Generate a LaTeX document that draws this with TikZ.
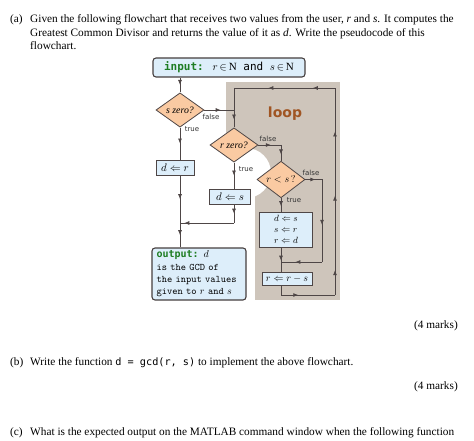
\documentclass[tikz,border=0pt]{standalone}
\usepackage{fontspec}
\setmainfont{Liberation Serif}
\newfontfamily\sansf{DejaVu Sans}
\newfontfamily\monof{DejaVu Sans Mono}
\newfontfamily\lmmono{Latin Modern Mono}
\usetikzlibrary{shapes.geometric,decorations.markings,arrows.meta}
\definecolor{loopgray}{RGB}{206,197,187}
\definecolor{diafill}{RGB}{250,202,162}
\definecolor{boxfill}{RGB}{221,238,250}
\definecolor{lncol}{RGB}{78,70,70}
\definecolor{kwgreen}{RGB}{30,125,35}
\definecolor{looptxt}{RGB}{160,85,35}
\tikzset{
  x=1pt, y=-1pt,
  >={Latex[length=5pt,width=4pt]},
  ln/.style={draw=lncol, line width=0.8pt},
  mk/.style={postaction={decorate},decoration={markings,mark=at position #1 with {\arrow{>}}}},
  mk/.default=0.5,
  mktwo/.style 2 args={postaction={decorate},decoration={markings,mark=at position #1 with {\arrow{>}},mark=at position #2 with {\arrow{>}}}},
  mkthree/.style n args={3}{postaction={decorate},decoration={markings,mark=at position #1 with {\arrow{>}},mark=at position #2 with {\arrow{>}},mark=at position #3 with {\arrow{>}}}},
  dia/.style={diamond, draw=lncol, line width=0.8pt, fill=diafill, inner sep=0pt, font=\fontsize{9.8}{11}\selectfont\itshape},
  bx/.style={rectangle, draw=lncol, line width=0.8pt, fill=boxfill, inner sep=0pt, font=\fontsize{10.5}{12}\selectfont},
  io/.style={rectangle, rounded corners=3pt, draw=lncol!90!black, line width=1.1pt, fill=boxfill, inner sep=0pt},
  lab/.style={font=\sansf\fontsize{7}{8}\selectfont, inner sep=0pt, text=black!80},
  txt/.style={font=\fontsize{11.3}{13}\selectfont, inner sep=0pt, anchor=base west},
}
\begin{document}
\begin{tikzpicture}
\useasboundingbox (0,0) rectangle (474,441);
% question text
\node[txt] (qa) at (10,22.5) {(a)};
\node[txt] (qa1) at (30,22.5) {Given the following flowchart that receives two values from the user, \textit{r} and \textit{s}. It computes the};
\node[txt] (qa2) at (30,36.5) {Greatest Common Divisor and returns the value of it as \textit{d}. Write the pseudocode of this};
\node[txt] (qa3) at (30,50) {flowchart.};
\node[txt, anchor=base east] (m1) at (458,328.5) {(4 marks)};
\node[txt] (qb) at (10,365.5) {(b)};
\node[txt] (qb1) at (30,365.5) {Write the function {\monof\fontsize{10.2}{12}\selectfont d = gcd(r, s)} to implement the above flowchart.};
\node[txt, anchor=base east] (m2) at (458,389.5) {(4 marks)};
\node[txt] (qc) at (10,435.5) {(c)};
\node[txt] (qc1) at (30,435.5) {What is the expected output on the MATLAB command window when the following function};

% loop background
\fill[loopgray] (226,82) rectangle (340,300);
\fill[white] (225,174) rectangle (255,301);
\fill[white] (246,173) circle (25);
\node[font=\sansf\bfseries\fontsize{14}{16}\selectfont, text=looptxt, inner sep=0pt] (looplab) at (285,114) {loop};

% nodes
\node[io, minimum width=152, minimum height=19, font=\monof\fontsize{11}{13}\selectfont] (in) at (229,67.5)
  {\textcolor{kwgreen}{\bfseries input:} $r\,{\in}\,\mathrm{N}$ and $s\,{\in}\,\mathrm{N}$};
\node[dia, minimum width=48, minimum height=27] (sz) at (180,110) {s zero?};
\node[bx, minimum width=38, minimum height=15] (dr) at (175,167.5) {$d \Leftarrow r$};
\node[dia, minimum width=48, minimum height=31] (rz) at (234,145) {r zero?};
\node[bx, minimum width=41, minimum height=15] (ds) at (230,196.5) {$d \Leftarrow s$};
\node[dia, minimum width=48, minimum height=31, font=\fontsize{9.8}{11}\selectfont] (rs) at (281,179.5) {$r < s\,?$};
\node[bx, minimum width=53, minimum height=35, align=left, font=\fontsize{9.5}{10.8}\selectfont] (sw) at (286,229.5)
  {$d \Leftarrow s$\\$s \Leftarrow r$\\$r \Leftarrow d$};
\node[bx, minimum width=50, minimum height=13, font=\fontsize{9.8}{11}\selectfont] (rr) at (287,278.5) {$r \Leftarrow r - s$};
\node[io, minimum width=94, minimum height=52, align=left, text width=85, inner xsep=4.5pt, font=\lmmono\fontsize{10}{12.3}\selectfont] (out) at (199,274)
  {{\monof\bfseries\textcolor{kwgreen}{output:}} $d$\\is the GCD of\\the input values\\given to $r$ and $s$};

% coordinates
\coordinate (j1) at (234,110);
\coordinate (tl) at (234,88);
\coordinate (tr) at (335,88);
\coordinate (br) at (335,295);
\coordinate (bl) at (281,295);
\coordinate (j2) at (281,145);
\coordinate (j3) at (322,179.5);
\coordinate (j4) at (322,262);
\coordinate (j5) at (281,262);
\coordinate (j6) at (180,223);
\coordinate (j7) at (234,223);

% connectors
\draw[ln, mk] (sz.north |- in.south) -- (sz.north);
\draw[ln, mk=0.55] (sz.east) -- (j1);
\draw[ln, mk] (sz.south) -- (sz.south |- dr.north);
\draw[ln, mk] (sz.south |- dr.south) -- (j6);
\draw[ln, mk] (j6) -- (sz.south |- out.north);
\draw[ln, mk=0.5] (rz.south) -- (rz.south |- ds.north);
\draw[ln, mk] (rz.south |- ds.south) -- (j7);
\draw[ln, mk=0.92] (j7) -- (j6);
\draw[ln, mktwo={0.22}{0.66}] (tr) -- (tl);
\draw[ln] (tl) -- (j1);
\draw[ln, mk=0.55] (j1) -- (rz.north);
\draw[ln, mk=0.55] (rz.east) -- (j2);
\draw[ln, mk=0.6] (j2) -- (rs.north);
\draw[ln, mk=0.6] (rs.east) -- (j3);
\draw[ln, mk=0.55] (j3) -- (j4);
\draw[ln, mk=0.65] (j4) -- (j5);
\draw[ln, mk=0.6] (rs.south) -- (rs.south |- sw.north);
\draw[ln, mk=0.55] (rs.south |- sw.south) -- (rs.south |- rr.north);
\draw[ln] (rs.south |- rr.south) -- (bl);
\draw[ln, mk=0.32] (bl) -- (br);
\draw[ln, mkthree={0.12}{0.48}{0.79}] (br) -- (tr);

% labels
\node[lab] (l1) at (211,117) {false};
\node[lab] (l2) at (192,129) {true};
\node[lab] (l3) at (268,139) {false};
\node[lab] (l4) at (246,169.5) {true};
\node[lab] (l5) at (311,172.5) {false};
\node[lab] (l6) at (294,200) {true};
\end{tikzpicture}
\end{document}
